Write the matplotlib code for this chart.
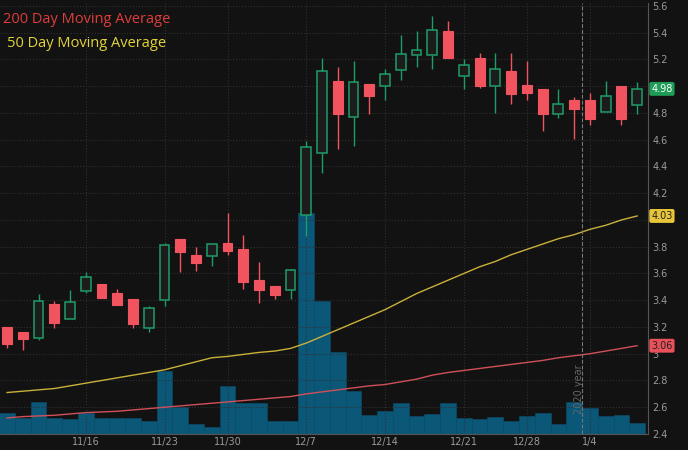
import matplotlib.pyplot as plt
import numpy as np

# daily candles 11/9 .. 1/7 (trading days only)
opens = [3.20, 3.16, 3.12, 3.37, 3.26, 3.47, 3.52, 3.455, 3.41, 3.195, 3.40, 3.86, 3.74, 3.73, 3.83, 3.78, 3.55, 3.51, 3.48, 4.04,
         4.50, 5.04, 4.77, 5.02, 5.00, 5.12, 5.23, 5.23, 5.41, 5.08, 5.21, 5.00, 5.11, 5.01, 4.976, 4.79, 4.895, 4.895, 4.81, 5.00, 4.86]
closes = [3.076, 3.113, 3.395, 3.23, 3.39, 3.57, 3.42, 3.365, 3.225, 3.34, 3.81, 3.76, 3.68, 3.82, 3.77, 3.54, 3.48, 3.44, 3.625, 4.546,
          5.11, 4.79, 5.03, 4.93, 5.09, 5.24, 5.27, 5.42, 5.21, 5.155, 5.00, 5.13, 4.94, 4.95, 4.79, 4.865, 4.83, 4.754, 4.93, 4.754, 4.98]
highs = [3.20, 3.16, 3.45, 3.395, 3.48, 3.61, 3.52, 3.485, 3.41, 3.36, 3.83, 3.86, 3.80, 3.82, 4.05, 3.885, 3.685, 3.51, 3.63, 4.59,
         5.21, 5.14, 5.19, 5.02, 5.125, 5.385, 5.41, 5.525, 5.49, 5.20, 5.245, 5.245, 5.245, 5.19, 4.976, 4.98, 4.92, 4.95, 5.04, 5.00, 5.035]
lows = [3.04, 3.03, 3.105, 3.19, 3.26, 3.455, 3.42, 3.365, 3.195, 3.16, 3.36, 3.61, 3.62, 3.655, 3.74, 3.485, 3.38, 3.41, 3.41, 3.88,
        4.35, 4.53, 4.55, 4.79, 4.90, 5.05, 5.14, 5.125, 5.21, 4.98, 4.99, 4.80, 4.865, 4.90, 4.665, 4.76, 4.605, 4.71, 4.81, 4.71, 4.79]
volume = [2.1, 1.6, 3.2, 1.6, 1.5, 2.1, 1.6, 1.6, 1.6, 1.3, 6.3, 2.7, 1.0, 0.7, 4.8, 3.1, 3.1, 1.3, 1.3, 22.1,
          13.3, 8.2, 4.3, 1.9, 2.3, 3.1, 1.8, 2.0, 3.1, 1.6, 1.5, 1.7, 1.3, 1.8, 2.1, 1.0, 3.2, 2.6, 1.8, 1.9, 1.1]
ma50 = [2.71, 2.72, 2.73, 2.74, 2.76, 2.78, 2.80, 2.82, 2.84, 2.86, 2.88, 2.91, 2.94, 2.97, 2.98, 2.995, 3.01, 3.02, 3.04, 3.08,
        3.13, 3.18, 3.23, 3.28, 3.33, 3.39, 3.45, 3.50, 3.55, 3.60, 3.65, 3.69, 3.74, 3.78, 3.82, 3.86, 3.89, 3.93, 3.96, 4.00, 4.03]
ma200 = [2.52, 2.53, 2.535, 2.54, 2.55, 2.56, 2.565, 2.57, 2.58, 2.59, 2.60, 2.61, 2.62, 2.63, 2.64, 2.65, 2.66, 2.67, 2.68, 2.70,
         2.715, 2.73, 2.745, 2.76, 2.77, 2.79, 2.81, 2.84, 2.86, 2.875, 2.89, 2.905, 2.92, 2.935, 2.95, 2.97, 2.985, 3.0, 3.02, 3.04, 3.06]
date_ticks = [5, 10, 14, 19, 24, 29, 33, 37]
date_labels = ['11/16', '11/23', '11/30', '12/7', '12/14', '12/21', '12/28', '1/4']
price_ticks = [2.4, 2.6, 2.8, 3, 3.2, 3.4, 3.6, 3.8, 4.0, 4.2, 4.4, 4.6, 4.8, 5.0, 5.2, 5.4, 5.6]
# labels covered by the last-value badges
hidden_ticks = [4.0, 5.0]

bg = '#1c1c1c'
up_col = '#1f9c68'
dn_col = '#f2545f'
fig = plt.figure(figsize=(6.88, 4.5), dpi=100, facecolor='#121212')
ax = fig.add_axes([0, 16 / 450, 648 / 688, 431 / 450])
ax.set_facecolor(bg)
x = np.arange(len(opens))

# volume on its own scale behind the candles
vax = ax.twinx()
vax.set_zorder(0)
ax.set_zorder(1)
ax.patch.set_visible(False)
vax.set_facecolor(bg)
vax.bar(x, volume, width=1.0, color='#0b5778', edgecolor='#0b4f6c', linewidth=0.4)
vax.set_ylim(0, 43.1)
vax.set_yticks([])

ax.set_axisbelow(True)
ax.plot(x, ma50, color='#c9b13a', linewidth=1)
ax.plot(x, ma200, color='#d0505a', linewidth=1)

w = 0.62
for i in x:
    o, c, h, l = opens[i], closes[i], highs[i], lows[i]
    if c >= o:
        ax.vlines(i, c, h, color=up_col, linewidth=1)
        ax.vlines(i, l, o, color=up_col, linewidth=1)
        ax.add_patch(plt.Rectangle((i - w / 2, o), w, c - o, facecolor=bg, edgecolor=up_col, linewidth=1.1))
    else:
        ax.vlines(i, l, h, color=dn_col, linewidth=1)
        ax.add_patch(plt.Rectangle((i - w / 2, c), w, o - c, facecolor=dn_col, edgecolor=dn_col, linewidth=0.8))

ax.set_xlim(-0.45, 40.69)
ax.set_ylim(2.4, 5.622)
ax.set_xticks(date_ticks)
ax.set_xticklabels(date_labels)
ax.set_yticks(price_ticks)
ax.set_yticklabels(['' if v in hidden_ticks else '{:g}'.format(v) for v in price_ticks])
ax.yaxis.tick_right()
ax.tick_params(colors='#9a9a9a', labelsize=7, length=0, pad=3)
ax.tick_params(axis='x', pad=2)
ax.grid(True, color='#303030', linestyle=':', linewidth=0.8)
for s in ax.spines.values():
    s.set_visible(False)
for s in vax.spines.values():
    s.set_visible(False)
ax.spines['right'].set_visible(True)
ax.spines['right'].set_color('#555555')
ax.spines['bottom'].set_visible(True)
ax.spines['bottom'].set_color('#555555')

# year separator
ax.axvline(36.5, color='#777777', linestyle='--', linewidth=0.8)
ax.text(36.3, 2.55, '2020 year', rotation=90, color='#666666', fontsize=7, ha='center', va='bottom')

# last-value badges
for val, col, tc in [(closes[-1], '#1f9c57', 'white'), (ma50[-1], '#e8c43a', '#222222'), (ma200[-1], '#e8505a', '#222222')]:
    ax.text(1.005, (val - 2.4) / (5.622 - 2.4), '{:.2f}'.format(val), transform=ax.transAxes,
            color=tc, fontsize=7, va='center', ha='left', zorder=5,
            bbox=dict(boxstyle='round,pad=0.2', facecolor=col, edgecolor='none'))

fig.text(0.005, 0.948, '200 Day Moving Average', color='#e03c3c', fontsize=10.5, family='Open Sans')
fig.text(0.01, 0.895, '50 Day Moving Average', color='#e2d33a', fontsize=10.5, family='Open Sans')

fig.savefig('out.png', dpi=100, facecolor=fig.get_facecolor())
